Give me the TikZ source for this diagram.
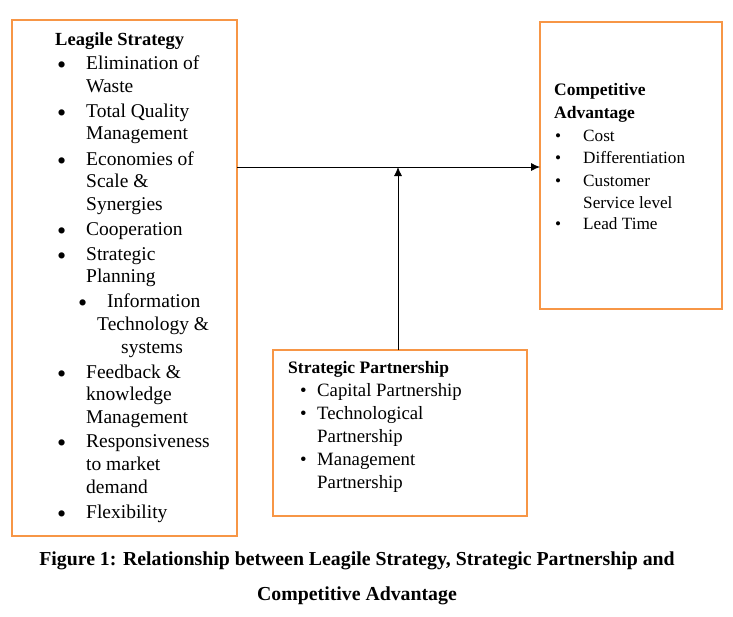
\documentclass[tikz,border=0pt]{standalone}
\usepackage{fontspec}
\usetikzlibrary{arrows.meta}
\setmainfont{Liberation Serif}
\definecolor{org}{RGB}{247,150,70}
\begin{document}
\begin{tikzpicture}[x=1pt,y=-1pt,
 box/.style={draw=org,line width=2.5pt},
 t/.style={anchor=base west,inner sep=0pt,font=\fontsize{19.5}{21}\selectfont},
 ts/.style={anchor=base west,inner sep=0pt,font=\fontsize{17.2}{19}\selectfont},
 tb/.style={anchor=base west,inner sep=0pt,font=\fontsize{18.8}{21}\selectfont},
 bul/.style={anchor=base west,inner sep=0pt,font=\fontsize{26}{26}\selectfont},
 arr/.style={-{Latex[length=9pt,width=8pt]},line width=0.8pt}]
\useasboundingbox (0,0) rectangle (733,616);
\draw[box] (12,20) rectangle (237,536);
\draw[box] (540,22) rectangle (722,309);
\draw[box] (273,350) rectangle (527,516);
\coordinate (L) at (237,167);
\coordinate (R) at (540,167);
\coordinate (J) at (398,167);
\coordinate (B) at (398,350);
\draw[line width=0.8pt] (L) -- (J);
\draw[arr] (J) -- (R);
\draw[arr] (B) -- (J);
% left
\node[t,font=\fontsize{18.5}{20}\selectfont\bfseries] at (55,45) {Leagile Strategy};
\foreach \y/\s in {69/Elimination of,117/Total Quality,165/Economies of,235/Cooperation,260/Strategic,378/Feedback \&,447/Responsiveness,518/Flexibility}
 {\node[bul] at (57,\y+4) {\textbullet}; \node[t] at (86,\y) {\s};}
\foreach \y/\s in {92/Waste,139/Management,187/Scale \&,210/Synergies,282/Planning,400/knowledge,423/Management,470/to market,493/demand}
 {\node[t] at (86,\y) {\s};}
\node[bul] at (78,311) {\textbullet};
\node[t] at (107,307) {Information};
\node[t] at (97,330) {Technology \&};
\node[t] at (121,353) {systems};
% right
\node[ts,font=\fontsize{17.5}{20}\selectfont\bfseries] at (554,95) {Competitive};
\node[ts,font=\fontsize{17.5}{20}\selectfont\bfseries] at (554,118) {Advantage};
\foreach \y/\s in {141/Cost,163/Differentiation,186/Customer,229/Lead Time}
 {\node[ts] at (555,\y) {\textbullet}; \node[ts] at (583,\y) {\s};}
\node[ts] at (583,208) {Service level};
% bottom
\node[tb,font=\fontsize{17.5}{20}\selectfont\bfseries] at (288,373) {Strategic Partnership};
\foreach \y/\s in {396/Capital Partnership,419/Technological,465/Management}
 {\node[tb] at (300,\y) {\textbullet}; \node[tb] at (317,\y) {\s};}
\node[tb] at (317,442) {Partnership};
\node[tb] at (317,488) {Partnership};
% caption
\node[anchor=base,inner sep=0pt,font=\fontsize{19.8}{22}\selectfont\bfseries] at (357,565) {Figure 1: Relationship between Leagile Strategy, Strategic Partnership and};
\node[anchor=base,inner sep=0pt,font=\fontsize{19.8}{22}\selectfont\bfseries] at (357,600) {Competitive Advantage};
\end{tikzpicture}
\end{document}
